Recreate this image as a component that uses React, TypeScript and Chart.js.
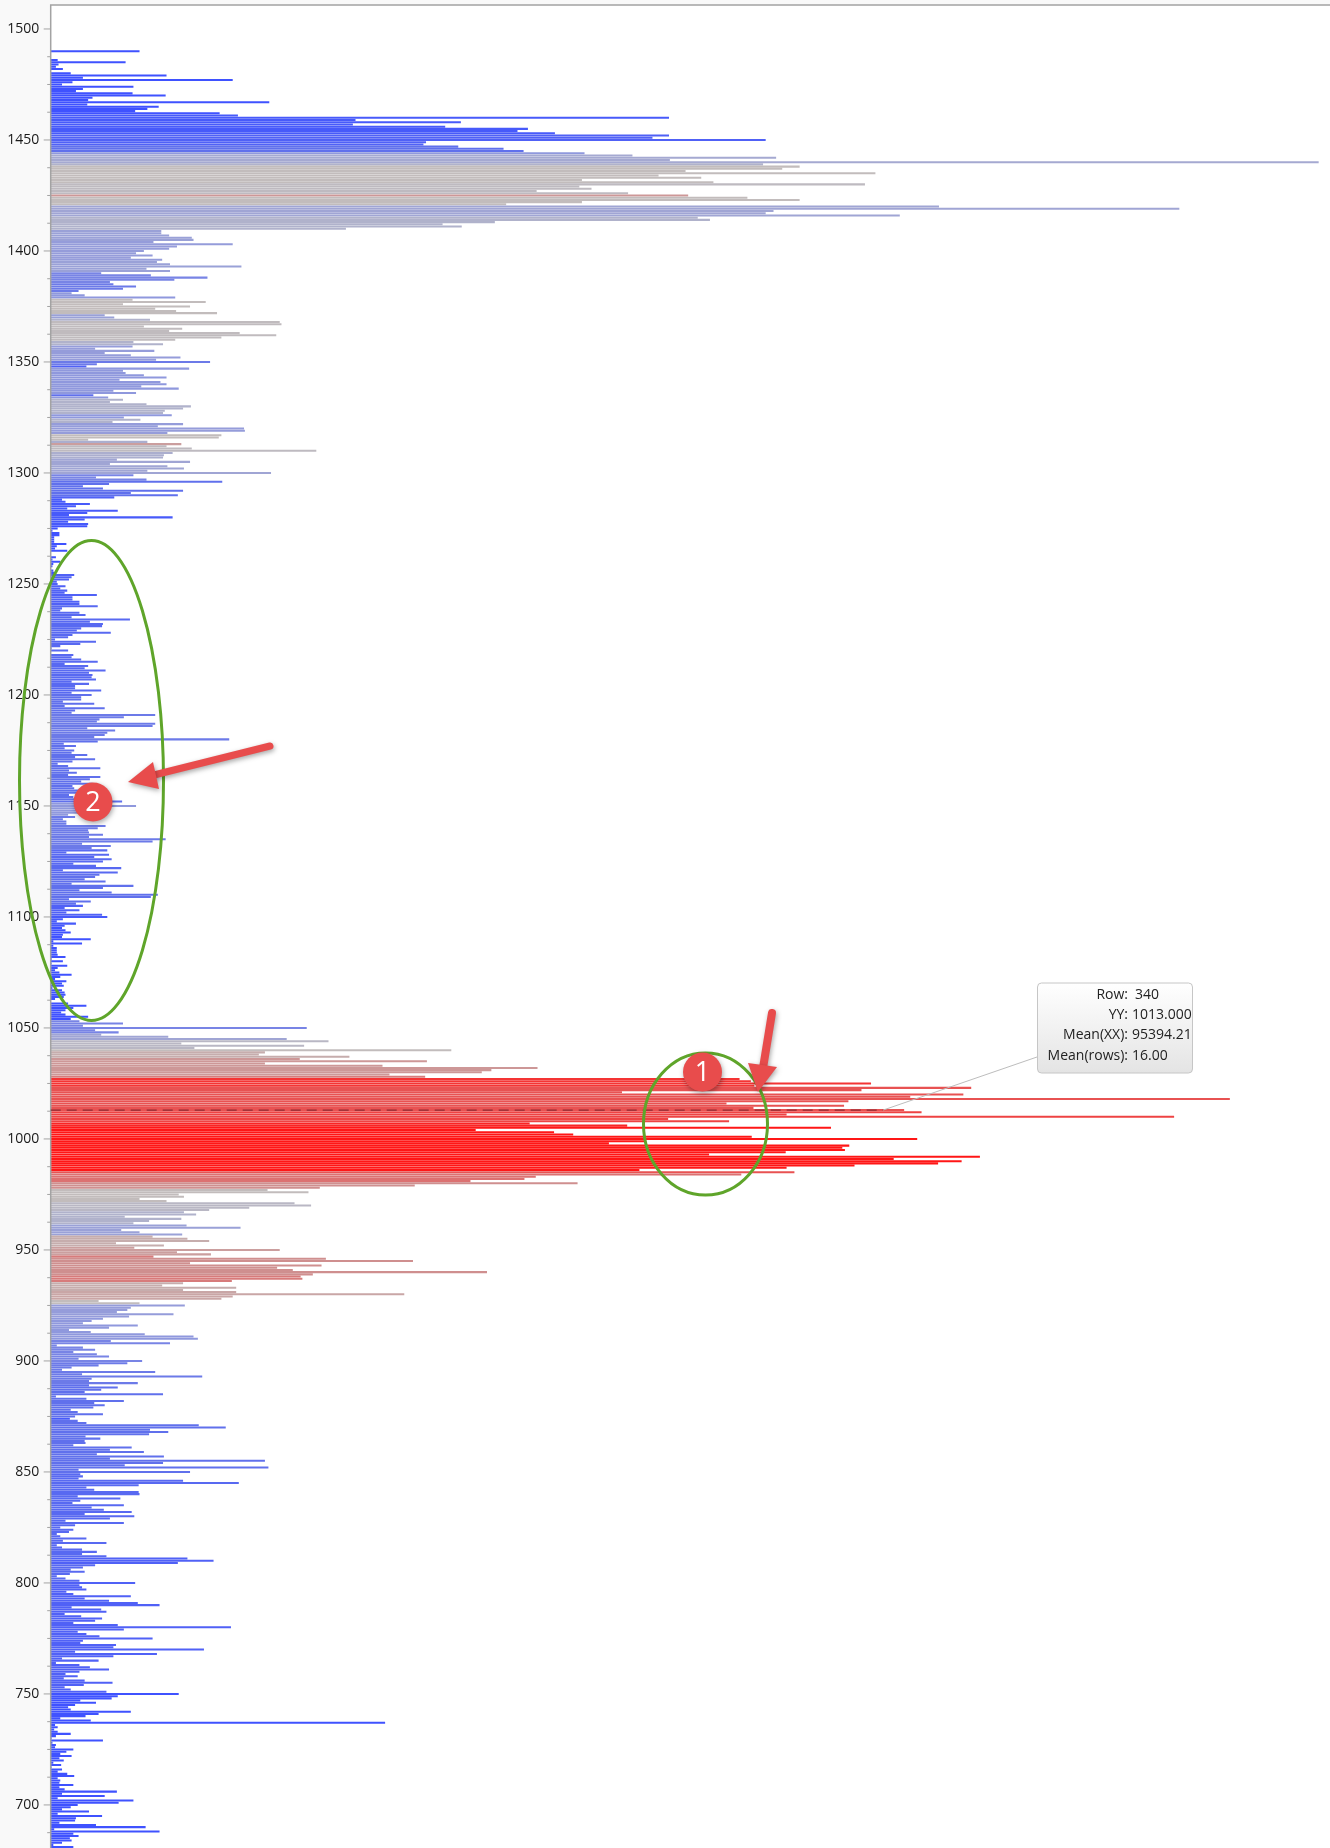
import React, { useEffect, useRef } from "react";
import { Chart, registerables } from "chart.js";

Chart.register(...registerables);

// Mean(XX), in thousands, read row by row (one row per unit of YY, top row first)
const meanXX1490 = [
  10.2,0,0,0,0.8,8.6,0.9,0.6,1.4,0,
  2.3,13.3,3.7,20.9,2.5,1.3,9.5,3.7,2.9,9.4,
  13.2,4.8,4.3,25.1,4.2,12.4,11.1,9.7,19.4,21.5,
  71,35,47.1,34.7,45.3,54.8,53.6,57.9,71,69.1,
  82.1,43.1,42.8,46.8,52,54.3,61.3,66.8,83.3,71.1,
  145.6,81.8,86,84,72.9,94.7,69.8,74.7,61,76.1,
  93.5,60.7,62.1,55.8,66.3,73.2,80,86,61,52.3,
  102,129.6,83,82.1,97.5,74.3,75.7,51,45,47.2,
  33.9,12.7,12.7,13.6,16.2,16.4,11.8,20.9,14.5,13.6,
];
const meanXX1400 = [
  10.7,9.8,11.7,9.2,12.8,12.2,13.7,21.9,11,13.7,
  5.8,11.5,18,14.2,6.8,7.2,9.8,8.3,3.2,2.4,
  3.9,14.3,9.4,17.8,8.3,16,12,14.4,19.1,6.2,
  7.3,11.4,26.3,26.5,10.7,15.1,13.6,21.7,25.9,19.6,
  14.3,9.5,12.9,9.4,5.1,11.9,6.2,9.2,14.9,12.1,
  18.3,5.3,4.1,15.9,8.3,8.6,10.7,13.3,7.9,12.6,
  13.3,10.4,14.7,7.2,9.8,4.9,6.6,8.3,6.8,11,
  16.1,15.2,13.1,12.9,13.9,8.4,10.3,7.1,15.2,12.3,
  22.2,22.3,13.4,19.6,19.3,4.3,11.1,15,13.3,16.2,
  30.5,14,13,12.9,7.6,16,6.8,13.4,15.3,11.1,
];
const meanXX1300 = [
  25.3,9.5,5.2,11,19.7,6.7,3.7,6,15.2,9.2,
  14.6,7.3,1.3,1.7,4.5,2.9,1.9,7.7,4.2,2.1,
  14,3.9,2,4.3,4.2,0.8,0.2,1,1,0.4,
  0.4,0.4,1.8,0.7,0.5,1.9,0,0,0.6,0.2,
  1.1,0.3,0.2,0,0.3,0.4,2.7,2.4,2.1,0.7,
  0.8,1.7,1.1,1.9,1.6,5.3,2.5,2.5,3.3,3.3,
  5.4,1.3,1.1,3.3,4,2.4,9.1,4.5,6,5.9,
  3.5,3,6.9,2.5,2,0.5,5.2,3.4,1.1,0.1,
  2,0,2.6,2.4,3.5,5.4,1.6,4.3,3.9,6.3,
  4.4,4.8,4.7,5.2,2.4,4.4,2.8,2.8,5.8,2.4,
];
const meanXX1200 = [
  4.7,3.5,3.5,1.4,5,1.6,6.2,2.8,2.4,12,
  8.4,5.6,5.3,12,11.7,4.2,7.4,6.5,6.2,5,
  20.5,5.4,1.5,2.9,1.6,2.7,2.4,4.2,2.8,5.1,
  2.5,0.8,2,5.7,2.1,3,2,5.7,4.5,3.5,
  4.8,2.5,2.7,3.4,3.2,2.1,2.6,3,8.2,3.4,
  9.8,3.6,3.4,3.2,2,2.8,1.4,1.8,1.8,6.3,
  5.4,4.3,4.4,6,4.4,13.2,11.7,3.6,6.9,4.7,
  6.5,1.8,6.7,5,7,6,2.6,5.2,8.1,1.4,
  7.7,5.6,5.1,3.9,6.3,2.4,9.5,6,3.3,7,
  12.3,11.5,2.1,4.6,2.9,3.7,1.6,3.3,1.8,5.9,
];
const meanXX1100 = [
  6.5,1.4,0.7,2.9,1.6,1.3,1.7,2.3,1.4,1.3,
  4.6,0.3,3.6,0.3,0.7,0.7,0.7,0.8,1.7,0.1,
  1.4,0.1,1.9,0.8,0.5,1,2.4,1.1,0.5,1.8,
  1.3,1.5,0.2,1.3,1.6,1.7,1.5,0.5,0,2,
  4.1,2.6,1.7,1.2,1.7,4.3,2.3,3.3,8.3,3.7,
  29.4,5.1,7.8,5.8,13.5,27.1,31.9,15,29.1,16.5,
  46,24.6,23.9,34.3,28.6,43.2,24.6,38.1,55.9,50.6,
  49.5,38.9,43,79.1,80.4,94.2,80.8,105.7,93.1,65.6,
  104.8,98.7,135.4,91.6,77.6,91.1,80.7,98,100,84.5,
  129,70.9,77.9,55,66.2,89.6,48.8,57.8,60,80.5,
];
const meanXX1000 = [
  99.5,68.2,64.1,91.7,90.9,91.2,84.4,75.6,106.7,96.8,
  104.6,101.9,92.3,84.5,67.6,85.4,79.3,55.7,54.4,48.2,
  60.5,41.8,30.9,24.9,29.6,14.7,15.3,10.2,13.3,28,
  29.9,22.8,18.2,15.3,16.7,8.5,15,11.3,9.5,15.6,
  21.8,8.1,10.2,15.1,11.7,15.7,18.2,7.5,13,9.6,
  26.3,14.5,18.4,11.8,31.6,41.6,16,31.1,26,27.8,
  50.1,30.1,28.7,28.9,20.8,15.2,12.8,21.3,15.2,21.3,
  40.6,20.9,19.6,5.5,10.2,15.4,9.2,8.8,7.6,14.1,
  9,6,4.7,3.7,10,6.7,2.1,4.6,10.8,16.4,
  16.9,6.9,13.7,0.7,3.7,5.1,2.6,5.3,6.7,3.2,
];
const meanXX900 = [
  10.5,8.8,5.5,2.4,1.3,12,3.6,17.4,4.7,4.4,
  10,4.4,7.7,5.8,3.9,12.9,0.6,4.1,8.4,5,
  6.2,4.9,2.3,3.1,6,2.8,2.2,3.1,4.1,17,
  20.1,11.4,13.5,11.3,4,5.7,3.9,4,2.6,9.3,
  6.8,10.7,5.3,13,6.8,24.6,12.9,8.5,25,3.2,
  16,3.4,3.7,3.2,15.2,21.6,10.1,4.1,5,10.1,
  10.2,3.1,8,3.4,2.5,8.4,4.7,6.1,9.3,3.9,
  9.6,6.8,1.7,8.4,2.8,1.1,2.6,2.1,0.7,1.1,
  4.1,1.4,6.4,0.7,1.3,3.6,5.3,3.6,6.4,15.7,
  18.7,14.6,5.1,3.7,2.3,3.9,2.2,0.7,1.7,3.3,
];
const meanXX800 = [
  9.7,3.3,3.6,4.1,1.8,2.6,9.2,3.9,6.7,10,
  12.5,2.4,5.8,6.4,1.6,3.5,5.9,5.1,2.6,7.7,
  20.7,8.4,3.1,4.1,5.6,11.7,3.7,3.4,7.5,7.2,
  17.6,2.8,12.2,7.2,1.3,5.5,0.6,3.3,4.5,6.7,
  3.3,1.7,3.1,1.5,3.9,7.1,3.8,1.6,2.3,6.4,
  14.7,7.7,7,3.4,5.2,2.8,2,2.3,9.2,5.5,
  4,1.1,4.6,38.4,0.5,0.8,0.4,0.8,2.3,0.6,
  0.1,6,0.2,0.6,0.5,2.6,1.8,1.1,2.4,1,
  1.5,0.3,1.2,0.1,1.3,0.8,1.9,2.7,0.8,1.1,
  1,2.6,1,1.6,7.6,1.3,6.2,0.8,9.5,7.8,
  3.1,2.3,1.3,4.4,0.8,5.9,2.9,2.8,1,5.2,
  10.9,0.4,12.5,2.6,3.2,2.2,2.4,1.3,0.3,2.6,
];
const rowBlocks: [number, number[]][] = [
  [1490, meanXX1490], [1400, meanXX1400], [1300, meanXX1300], [1200, meanXX1200],
  [1100, meanXX1100], [1000, meanXX1000], [900, meanXX900], [800, meanXX800],
];

// Mean(rows) by band of YY: a band starts at its top row and runs down to the next one
const bandTops = [
  1490,1461,1452,1447,1444,1443,1439,1438,1430,1425,1424,1420,1415,1409,1404,1395,1390,1385,1381,1378,
  1371,1369,1368,1359,1357,1350,1348,1347,1335,1334,1333,1326,1324,1322,1317,1314,1313,1312,1309,1306,
  1299,1296,1289,1288,1276,1254,1240,1200,1191,1179,1151,1145,1130,1119,1105,1100,1095,1053,1047,1044,
  1040,1039,1036,1028,1027,1023,1012,1007,1005,985,984,980,977,971,967,961,956,951,947,946,
  938,935,931,927,925,919,909,899,889,874,873,849,811,808,800,750,
];
const bandRows = [
  1,1.5,2,3,5,7,8,10,9.5,12.5,10,6.5,8,6,5.5,6,4,3.5,5,10,
  6,8,9.8,8,5.5,3.5,2,5,3,5,8,5,8,5.5,10,7.5,12,9.5,7.5,6.5,
  4,3,2,1.5,1,2,2.5,3,3.5,3,5,3.5,2.5,3,2,1.5,1,4,6.5,9,
  10,11,12.5,14,18,16,17,19,20,16,14.5,13,10,9,8,6,11,12,14,13,
  14,11,11.5,10,5.5,5,4,3.5,3,1.5,3,2.5,2,2.5,2,1,
];

const yMajorTicks = [1500,1450,1400,1350,1300,1250,1200,1150,1100,1050,1000,950,900,850,800,750,700];
const yMinorTicks = [
  1487.5,1475,1462.5,1437.5,1425,1412.5,1387.5,1375,1362.5,1337.5,1325,1312.5,1287.5,1275,1262.5,
  1237.5,1225,1212.5,1187.5,1175,1162.5,1137.5,1125,1112.5,1087.5,1075,1062.5,1037.5,1025,1012.5,
  987.5,975,962.5,937.5,925,912.5,887.5,875,862.5,837.5,825,812.5,787.5,775,762.5,737.5,725,712.5,687.5,
];

const selectedRow = 1013;
const tooltipKeys = ["Row:", "YY:", "Mean(XX):", "Mean(rows):"];
const tooltipValues = ["340", "1013.000", "95394.21", "16.00"];

const rampLevels = [1, 3, 5, 8, 10, 13, 16, 20];
const rampColors = [
  [63, 82, 255], [96, 112, 236], [143, 152, 221], [176, 178, 203],
  [194, 188, 188], [207, 143, 143], [232, 82, 82], [255, 22, 22],
];
function colourFor(level: number) {
  let i = 0;
  while (i < rampLevels.length - 2 && level > rampLevels[i + 1]) i++;
  const t = Math.max(0, Math.min(1, (level - rampLevels[i]) / (rampLevels[i + 1] - rampLevels[i])));
  const c = rampColors[i].map((a, k) => Math.round(a + (rampColors[i + 1][k] - a) * t));
  return `rgb(${c[0]},${c[1]},${c[2]})`;
}
function levelFor(row: number) {
  let level = bandRows[0];
  for (let i = 0; i < bandTops.length; i++) {
    if (row <= bandTops[i]) level = bandRows[i];
    else break;
  }
  return level;
}

const FONT = '"Open Sans", "Noto Sans", sans-serif';

function shadowed(ctx: CanvasRenderingContext2D, draw: () => void) {
  ctx.save();
  ctx.shadowColor = "rgba(0,0,0,0.35)";
  ctx.shadowBlur = 5;
  ctx.shadowOffsetX = 1;
  ctx.shadowOffsetY = 2;
  draw();
  ctx.restore();
}

function drawArrow(
  ctx: CanvasRenderingContext2D,
  tail: number[], neck: number[], tip: number[], b1: number[], b2: number[], w: number,
) {
  shadowed(ctx, () => {
    ctx.fillStyle = "#e84c4c";
    ctx.strokeStyle = "#e84c4c";
    ctx.lineWidth = w;
    ctx.lineCap = "round";
    ctx.beginPath();
    ctx.moveTo(tail[0], tail[1]);
    ctx.lineTo(neck[0], neck[1]);
    ctx.stroke();
    ctx.beginPath();
    ctx.moveTo(tip[0], tip[1]);
    ctx.lineTo(b1[0], b1[1]);
    ctx.lineTo(b2[0], b2[1]);
    ctx.closePath();
    ctx.fill();
  });
}

function drawBadge(ctx: CanvasRenderingContext2D, x: number, y: number, label: string) {
  shadowed(ctx, () => {
    ctx.fillStyle = "#e84c4c";
    ctx.beginPath();
    ctx.arc(x, y, 19.5, 0, Math.PI * 2);
    ctx.fill();
  });
  ctx.fillStyle = "#ffffff";
  ctx.font = `27px ${FONT}`;
  ctx.textAlign = "center";
  ctx.textBaseline = "middle";
  ctx.fillText(label, x, y + 1);
}

const chartPlugin = {
  id: "referenceExtras",
  beforeDatasetsDraw(chart: any) {
    const { ctx, chartArea: a } = chart;
    ctx.save();
    ctx.fillStyle = "#ffffff";
    ctx.fillRect(a.left, a.top, a.right - a.left, a.bottom - a.top);
    ctx.restore();
  },
  afterDatasetsDraw(chart: any) {
    const { ctx, chartArea: a, scales } = chart;
    const yS = scales.y;
    const xS = scales.x;
    ctx.save();
    // axis frame and ticks
    ctx.strokeStyle = "#a3a3a3";
    ctx.lineWidth = 1.5;
    ctx.beginPath();
    ctx.moveTo(a.left, a.bottom);
    ctx.lineTo(a.left, a.top);
    ctx.lineTo(a.right, a.top);
    ctx.stroke();
    ctx.lineWidth = 1;
    yMajorTicks.forEach((v) => {
      const p = yS.getPixelForValue(v);
      ctx.beginPath();
      ctx.moveTo(a.left - 7, p);
      ctx.lineTo(a.left, p);
      ctx.stroke();
    });
    yMinorTicks.forEach((v) => {
      const p = yS.getPixelForValue(v);
      ctx.beginPath();
      ctx.moveTo(a.left - 3.5, p);
      ctx.lineTo(a.left, p);
      ctx.stroke();
    });

    // selected row outline
    const sy = yS.getPixelForValue(selectedRow);
    const sx = xS.getPixelForValue(meanXX1100[1100 - selectedRow]);
    ctx.strokeStyle = "rgba(110,30,40,0.75)";
    ctx.lineWidth = 1.4;
    ctx.setLineDash([10, 6]);
    ctx.beginPath();
    ctx.moveTo(a.left, sy);
    ctx.lineTo(sx - 21, sy);
    ctx.stroke();
    ctx.setLineDash([]);

    // tooltip
    ctx.strokeStyle = "#bdbdbd";
    ctx.lineWidth = 1;
    ctx.beginPath();
    ctx.moveTo(sx - 21, sy);
    ctx.lineTo(1037, 1057);
    ctx.stroke();
    const g = ctx.createLinearGradient(0, 983, 0, 1073);
    g.addColorStop(0, "#ffffff");
    g.addColorStop(1, "#e4e4e4");
    ctx.fillStyle = g;
    ctx.strokeStyle = "#c6c6c6";
    ctx.beginPath();
    ctx.roundRect(1037.5, 983, 155, 90, 4);
    ctx.fill();
    ctx.stroke();
    ctx.fillStyle = "#222222";
    ctx.font = `14px ${FONT}`;
    ctx.textBaseline = "middle";
    tooltipKeys.forEach((k, i) => {
      const ty = 995 + i * 20.2;
      ctx.textAlign = "right";
      ctx.fillText(k, 1128, ty);
      ctx.textAlign = "left";
      ctx.fillText(tooltipValues[i], i === 0 ? 1135 : 1132, ty);
    });

    // callouts
    ctx.strokeStyle = "#5fa52a";
    ctx.lineWidth = 3;
    ctx.beginPath();
    ctx.ellipse(91.5, 780.5, 72, 240, 0, 0, Math.PI * 2);
    ctx.stroke();
    ctx.beginPath();
    ctx.ellipse(705.5, 1124, 62, 71, 0, 0, Math.PI * 2);
    ctx.stroke();
    drawBadge(ctx, 702.5, 1072, "1");
    drawBadge(ctx, 93, 802, "2");
    drawArrow(ctx, [772, 1013], [763, 1068], [758, 1092], [748, 1063], [777, 1067], 8);
    drawArrow(ctx, [270, 746], [150, 776], [128, 782], [153, 762], [159, 789], 7);
    ctx.restore();
  },
};

export default function App() {
  const ref = useRef<HTMLCanvasElement | null>(null);
  useEffect(() => {
    document.body.style.margin = "0";
    document.body.style.background = "#f9f9f9";
    const points: { x: number; y: number }[] = [];
    rowBlocks.forEach(([top, values]) => {
      values.forEach((v, i) => points.push({ x: v, y: top - i }));
    });
    const chart = new Chart(ref.current as HTMLCanvasElement, {
      type: "bar",
      data: {
        datasets: [
          {
            label: "Mean(XX)",
            data: points as any,
            backgroundColor: points.map((p) => colourFor(levelFor(p.y))),
            barPercentage: 0.92,
            categoryPercentage: 1,
            borderWidth: 0,
          },
        ],
      },
      options: {
        indexAxis: "y",
        animation: false,
        responsive: false,
        devicePixelRatio: 1,
        layout: { autoPadding: false, padding: { top: 5, left: 0, right: 0, bottom: 0 } },
        plugins: { legend: { display: false }, tooltip: { enabled: false } },
        scales: {
          x: { type: "linear", display: false, min: 0, max: 146.9, offset: false },
          y: {
            type: "linear",
            min: 680.6,
            max: 1510.8,
            offset: false,
            grid: { display: false, drawTicks: false, offset: false },
            border: { display: false },
            afterFit: (s: any) => {
              s.width = 50.7;
              s.paddingTop = 0;
              s.paddingBottom = 0;
            },
            afterBuildTicks: (s: any) => {
              s.ticks = yMajorTicks.map((value) => ({ value }));
            },
            ticks: {
              autoSkip: false,
              padding: 11.5,
              color: "#1a1a1a",
              font: { family: '"Open Sans", "Noto Sans", sans-serif', size: 14 },
              callback: (v: any) => String(v),
            },
          },
        },
      },
      plugins: [chartPlugin],
    } as any);
    return () => chart.destroy();
  }, []);
  return (
    <div style={{ width: 1330, height: 1848, background: "#f9f9f9" }}>
      <canvas ref={ref} width={1330} height={1848} style={{ display: "block" }} />
    </div>
  );
}
